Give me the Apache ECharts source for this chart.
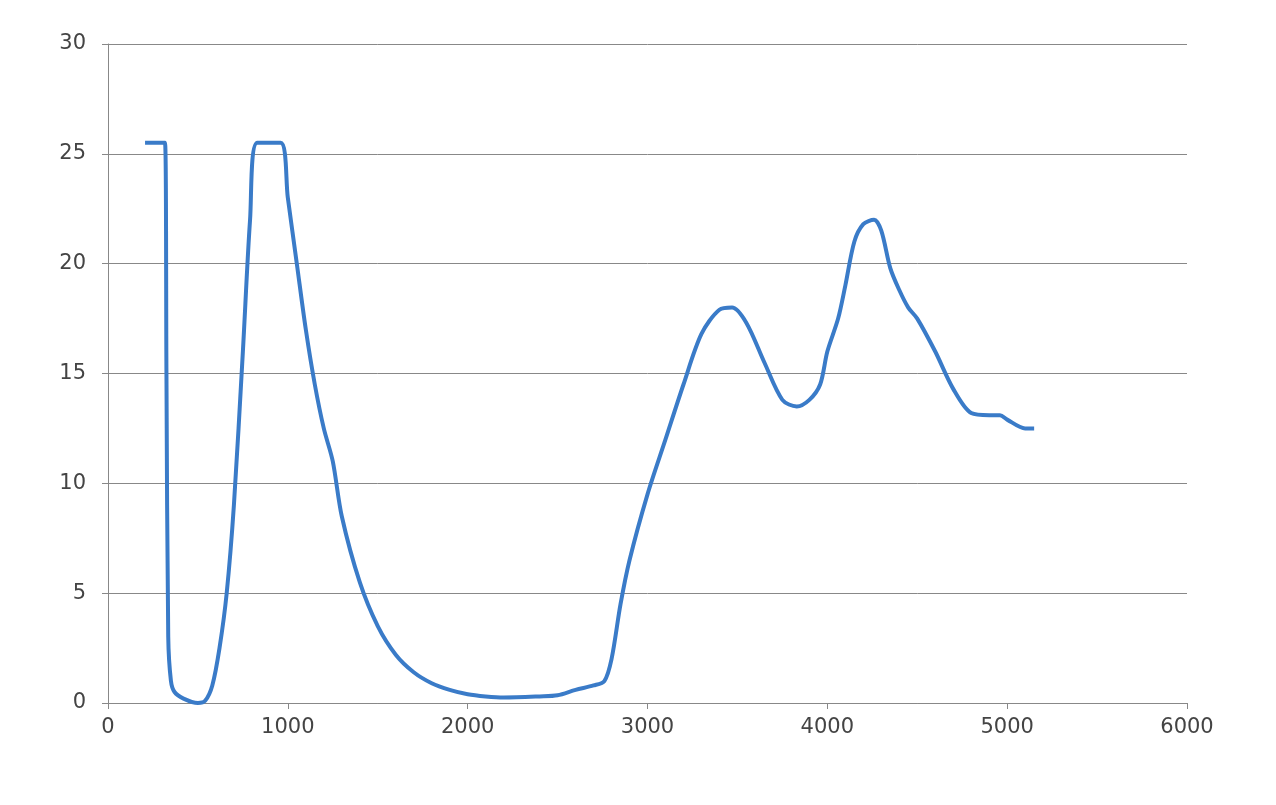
<!DOCTYPE html>
<html><head><meta charset="utf-8">
<script src="https://cdn.jsdelivr.net/npm/echarts@6/dist/echarts.min.js"></script>
<style>html,body{margin:0;padding:0;background:#fff}#c{width:1276px;height:805px}</style>
</head><body><div id="c"></div>
<script>
const xValues=[206,300,317,325,335,350,370,420,500,540,580,620,660,700,750,790,830,960,1000,1050,1100,1150,1200,1250,1300,1400,1500,1600,1700,1800,1900,2000,2100,2200,2400,2500,2600,2700,2760,2800,2850,2900,3000,3100,3200,3300,3400,3470,3550,3650,3750,3830,3900,3960,4000,4060,4100,4150,4200,4260,4300,4350,4400,4450,4500,4600,4700,4800,4900,4960,5000,5100,5150];
const yValues=[25.5,25.5,25.5,15,3,1,0.5,0.2,0,0.1,0.8,2.5,5,9,16,22,25.5,25.5,23,20,17,14.5,12.5,11,8.5,5.5,3.5,2.2,1.4,0.9,0.6,0.4,0.3,0.25,0.3,0.35,0.6,0.8,1,2,4.5,6.5,9.5,12,14.5,16.8,17.9,18,17.3,15.5,13.8,13.5,13.8,14.5,16,17.5,19,21,21.8,22,21.5,19.8,18.8,18,17.5,16,14.3,13.2,13.1,13.1,12.9,12.5,12.5];
const data=xValues.map((x,i)=>[x,yValues[i]]);
const chart=echarts.init(document.getElementById('c'));
const lbl={color:'#444',fontSize:21,fontFamily:'DejaVu Sans'};
chart.setOption({
  animation:false,
  grid:{left:108,right:89,top:44,bottom:102},
  xAxis:{type:'value',min:0,max:6000,interval:1000,
    axisLine:{show:true,lineStyle:{color:'#888'}},
    axisTick:{show:true,length:6,lineStyle:{color:'#888'}},
    splitLine:{show:false},
    axisLabel:Object.assign({margin:14,formatter:v=>String(v)},lbl)},
  yAxis:{type:'value',min:0,max:30,interval:5,
    axisLine:{show:true,lineStyle:{color:'#888'}},
    axisTick:{show:true,length:6,lineStyle:{color:'#888'}},
    splitLine:{lineStyle:{color:'#888'}},
    axisLabel:Object.assign({margin:22},lbl)},
  series:[{type:'line',data:data,smooth:0.3,showSymbol:false,
    lineStyle:{color:'#3a7bc8',width:4}}]
});
</script></body></html>
